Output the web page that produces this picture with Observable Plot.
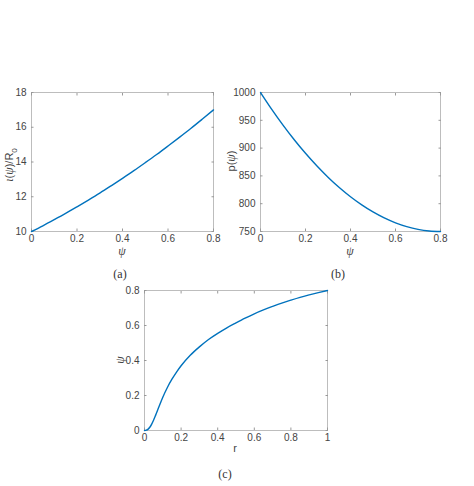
<!DOCTYPE html>
<html>
<head>
<meta charset="utf-8">
<script src="https://cdn.jsdelivr.net/npm/d3@7"></script>
<script src="https://cdn.jsdelivr.net/npm/@observablehq/plot@0.6"></script>
<style>
  body { margin: 0; background: #fff; }
  #fig { position: relative; width: 474px; height: 486px; overflow: hidden;
         font-family: "Liberation Sans", Arial, sans-serif; color: #444; }
  .panel { position: absolute; }
  .panel text { font-family: "Liberation Sans", Arial, sans-serif; }
  .lab { position: absolute; font-size: 11px; white-space: nowrap; line-height: 1; }
  .lab sub { font-size: 8px; }
  .greek { font-family: "Liberation Serif", "DejaVu Serif", serif; font-style: italic; font-size: 12px; }
  .cap { position: absolute; font-family: "Liberation Serif", "DejaVu Serif", serif; font-size: 12px; color: #333; line-height: 1; }
</style>
</head>
<body>
<div id="fig"></div>
<script>
// Flux coordinate grid and the profiles defined on it
const psiGrid = [0, 0.05, 0.1, 0.15, 0.2, 0.25, 0.3, 0.35, 0.4, 0.45, 0.5, 0.55, 0.6, 0.65, 0.7, 0.75, 0.8];
const iotaOverR0 = [10, 10.33, 10.68, 11.04, 11.42, 11.81, 12.21, 12.63, 13.06, 13.5, 13.96, 14.43, 14.92, 15.42, 15.93, 16.46, 17];
const pressure = [1000, 969.7, 941.4, 915.0, 890.6, 868.2, 847.7, 829.1, 812.5, 797.9, 785.2, 774.4, 765.6, 758.8, 753.9, 751.0, 750];

// Radial profile of the flux function
const rGrid = [0, 0.01, 0.02, 0.03, 0.04, 0.05, 0.06, 0.08, 0.1, 0.125, 0.15, 0.175, 0.2, 0.25, 0.3, 0.35, 0.4, 0.45, 0.5, 0.55, 0.6, 0.65, 0.7, 0.75, 0.8, 0.85, 0.9, 0.95, 1];
const psiOfR = [0, 0.002, 0.008, 0.02, 0.038, 0.06, 0.085, 0.138, 0.19, 0.246, 0.293, 0.334, 0.37, 0.43, 0.478, 0.52, 0.555, 0.587, 0.615, 0.642, 0.667, 0.689, 0.709, 0.728, 0.745, 0.761, 0.775, 0.788, 0.8];

// Tick values
const psiTicks = [0, 0.2, 0.4, 0.6, 0.8];
const iotaTicks = [10, 12, 14, 16, 18];
const pressureTicks = [750, 800, 850, 900, 950, 1000];
const rTicks = [0, 0.2, 0.4, 0.6, 0.8, 1];

const lineColor = "#0072BD";
const frameColor = "#bdbdbd";
const fig = document.getElementById("fig");

function panel({xs, ys, xDomain, yDomain, xTicks, yTicks, left, top, width, height, margins}) {
  const rows = xs.map((x, i) => ({x, y: ys[i]}));
  const tick = {tickSize: -2.5, stroke: "#999", fontSize: 10, tickFormat: d => String(d)};
  const chart = Plot.plot({
    width, height,
    ...margins,
    style: {background: "transparent", color: "#444", fontFamily: '"Liberation Sans", Arial, sans-serif', fontSize: "10px"},
    x: {domain: xDomain},
    y: {domain: yDomain},
    marks: [
      Plot.frame({stroke: frameColor}),
      Plot.axisX(xTicks, {...tick, anchor: "bottom", tickPadding: 6, label: null}),
      Plot.axisX(xTicks, {...tick, anchor: "top", fill: "none", label: null}),
      Plot.axisY(yTicks, {...tick, anchor: "left", tickPadding: 7.5, label: null}),
      Plot.axisY(yTicks, {...tick, anchor: "right", fill: "none", label: null}),
      Plot.line(rows, {x: "x", y: "y", stroke: lineColor, strokeWidth: 1.4, curve: "monotone-x"})
    ]
  });
  chart.classList.add("panel");
  chart.style.left = left + "px";
  chart.style.top = top + "px";
  fig.appendChild(chart);
}

function label(html, cx, cy, cls = "lab", rotate = false) {
  const el = document.createElement("div");
  el.className = cls;
  el.innerHTML = html;
  el.style.left = cx + "px";
  el.style.top = cy + "px";
  el.style.transform = "translate(-50%, -50%)" + (rotate ? " rotate(-90deg)" : "");
  fig.appendChild(el);
}

// (a) rotational transform
panel({xs: psiGrid, ys: iotaOverR0, xDomain: [0, 0.8], yDomain: [10, 18],
  xTicks: psiTicks, yTicks: iotaTicks, left: 0, top: 80, width: 240, height: 190,
  margins: {marginLeft: 31, marginRight: 27, marginTop: 12, marginBottom: 39}});
label("<span class='greek'>ι</span>(<span class='greek'>ψ</span>)/R<sub>0</sub>", 11, 165, "lab", true);
label("ψ", 122, 251, "lab greek");
label("(a)", 120, 274, "cap");

// (b) pressure
panel({xs: psiGrid, ys: pressure, xDomain: [0, 0.8], yDomain: [750, 1000],
  xTicks: psiTicks, yTicks: pressureTicks, left: 225, top: 80, width: 249, height: 190,
  margins: {marginLeft: 35, marginRight: 34, marginTop: 12, marginBottom: 39}});
label("p(<span class='greek'>ψ</span>)", 231, 161, "lab", true);
label("ψ", 350, 251, "lab greek");
label("(b)", 338, 274, "cap");

// (c) flux versus radius
panel({xs: rGrid, ys: psiOfR, xDomain: [0, 1], yDomain: [0, 0.8],
  xTicks: rTicks, yTicks: psiTicks, left: 100, top: 280, width: 280, height: 180,
  margins: {marginLeft: 44, marginRight: 53, marginTop: 10, marginBottom: 30}});
label("ψ", 120, 360, "lab greek", true);
label("r", 235, 448);
label("(c)", 225, 474, "cap");
</script>
</body>
</html>
